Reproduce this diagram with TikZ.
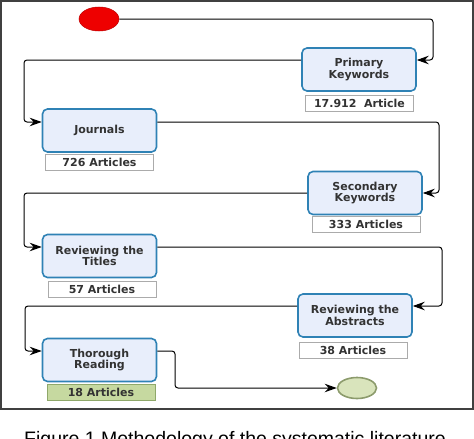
\documentclass[tikz,border=0pt]{standalone}
\usepackage{fontspec}
\setmainfont{DejaVu Sans}
\newfontfamily\capfont{Liberation Sans}
\usetikzlibrary{arrows.meta,shapes.geometric}
\definecolor{boxline}{HTML}{2F82B5}
\definecolor{boxfill}{HTML}{E8EEFB}
\definecolor{cntline}{HTML}{ABABAB}
\definecolor{txt}{HTML}{333333}
\definecolor{startred}{HTML}{EE0000}
\definecolor{donefill}{HTML}{D9E4BC}
\definecolor{doneline}{HTML}{8C9B6C}
\definecolor{lastfill}{HTML}{C6D9A0}
\definecolor{lastline}{HTML}{8FA86A}
\definecolor{frame}{HTML}{404040}

\begin{document}
\begin{tikzpicture}[x=1pt,y=-1pt,
  stage/.style={draw=boxline, line width=1.6pt, fill=boxfill, rounded corners=5pt,
    minimum width=114pt, minimum height=43pt, inner sep=0pt, align=center, text=txt,
    font=\fontsize{11}{11.5}\selectfont\bfseries},
  count/.style={draw=cntline, line width=1pt, fill=white, minimum width=108pt,
    minimum height=16pt, inner sep=0pt, text=txt, font=\fontsize{11}{11.5}\selectfont\bfseries},
  flow/.style={line width=1pt, rounded corners=3pt, -{Stealth[length=12pt,width=8.5pt,inset=4pt]}}]
\useasboundingbox (0,0) rectangle (474,439);
\clip (0,0) rectangle (474,439);
\draw[frame, line width=2.5pt] (1,1) rectangle (473,409);
% start and end
\node[ellipse, fill=startred, draw=startred!80!black, line width=0.5pt, minimum width=40pt, minimum height=24pt, inner sep=0pt] (start) at (99,19) {};
\node[ellipse, draw=doneline, line width=1.6pt, fill=donefill, minimum width=39pt, minimum height=21pt, inner sep=0pt] (done) at (357,388) {};
% stages
\node[stage] (pk) at (359,69.5) {Primary\\Keywords};
\node[count] (pkn) at (359.5,103.5) {17.912~ Article};
\node[stage] (jr) at (99.5,130.5) {Journals};
\node[count] (jrn) at (99.5,162.5) {726 Articles};
\node[stage] (sk) at (365,193) {Secondary\\Keywords};
\node[count] (skn) at (366,224.5) {333 Articles};
\node[stage] (rt) at (99.5,256) {Reviewing the\\Titles};
\node[count] (rtn) at (102,289.5) {57 Articles};
\node[stage] (ra) at (355,315.5) {Reviewing the\\Abstracts};
\node[count] (ran) at (353,350.5) {38 Articles};
\node[stage] (tr) at (99.5,360) {Thorough\\Reading};
\node[count, draw=lastline, fill=lastfill] (trn) at (101,392) {18 Articles};
% flow
\draw[flow] (start.east) -| (433,60) -- (pk.east |- 0,60);
\draw[flow] (pk.west |- 0,60) -| (24,122) -- (jr.west |- 0,122);
\draw[flow] (jr.east |- 0,122) -| (439,193) -- (sk.east |- 0,193);
\draw[flow] (sk.west |- 0,193) -| (24,247) -- (rt.west |- 0,247);
\draw[flow] (rt.east |- 0,247) -| (442,306) -- (ra.east |- 0,306);
\draw[flow] (ra.west |- 0,306) -| (25,351) -- (tr.west |- 0,351);
\draw[flow] (tr.east |- 0,351) -| (175,388) -- (done.west);
% caption
\node[anchor=base west, inner sep=0pt, font=\capfont\fontsize{19.5}{22}\selectfont] (cap) at (24,445) {Figure 1 Methodology of the systematic literature};
\end{tikzpicture}
\end{document}
